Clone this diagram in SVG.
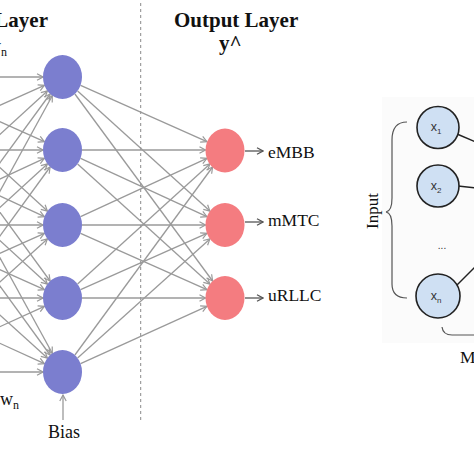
<svg xmlns="http://www.w3.org/2000/svg" width="474" height="474" viewBox="0 0 474 474">
<defs>
<marker id="ah" viewBox="0 0 8 8" refX="7" refY="4" markerWidth="8" markerHeight="8" markerUnits="userSpaceOnUse" orient="auto">
<path d="M1,0.8 L7,4 L1,7.2" fill="none" stroke="#9a9a9a" stroke-width="1.2"/>
</marker>
<marker id="ahd" viewBox="0 0 8 8" refX="7" refY="4" markerWidth="8" markerHeight="8" markerUnits="userSpaceOnUse" orient="auto">
<path d="M1,0.8 L7,4 L1,7.2" fill="none" stroke="#555" stroke-width="1.3"/>
</marker>
</defs>
<style>
.t{font-family:"Liberation Serif","Times New Roman",serif;fill:#111}
.b{font-weight:bold}
.c line{stroke:#9a9a9a;stroke-width:1.3;marker-end:url(#ah)}
.hid{fill:#7b7ecf}
.out{fill:#f47c80}
.xc{fill:#cfe0f3;stroke:#222;stroke-width:1.6}
.s{font-family:"Liberation Sans",Arial,sans-serif;fill:#333}
</style>
<rect x="0" y="0" width="474" height="474" fill="#fff"/>

<!-- titles -->
<text class="t b" x="48" y="27" font-size="21" text-anchor="end">Layer</text>
<text class="t b" x="174" y="27" font-size="21">Output Layer</text>
<text class="t b" x="219" y="50" font-size="21">y^</text>
<text class="t" x="-12" y="52" font-size="18">w<tspan font-size="12" dy="4">n</tspan></text>
<text class="t" x="0" y="405" font-size="18">w<tspan font-size="12" dy="4">n</tspan></text>

<!-- dashed separator -->
<line x1="140.7" y1="3" x2="140.7" y2="420" stroke="#8a8a8a" stroke-width="1" stroke-dasharray="3,3"/>

<!-- connectors -->
<g id="connectors" class="c">
<line x1="-99" y1="77" x2="43" y2="77"/>
<line x1="-99" y1="150" x2="44.4" y2="85.3"/>
<line x1="-99" y1="225" x2="47.4" y2="90.9"/>
<line x1="-99" y1="298" x2="50.1" y2="94"/>
<line x1="-99" y1="372" x2="52.3" y2="95.7"/>

<line x1="-99" y1="77" x2="44.4" y2="141.7"/>
<line x1="-99" y1="150" x2="43" y2="150"/>
<line x1="-99" y1="225" x2="44.4" y2="158.3"/>
<line x1="-99" y1="298" x2="47.4" y2="163.9"/>
<line x1="-99" y1="372" x2="50.1" y2="167"/>

<line x1="-99" y1="77" x2="47.4" y2="211.1"/>
<line x1="-99" y1="150" x2="44.4" y2="216.7"/>
<line x1="-99" y1="225" x2="43" y2="225"/>
<line x1="-99" y1="298" x2="44.4" y2="233.3"/>
<line x1="-99" y1="372" x2="47.4" y2="238.9"/>

<line x1="-99" y1="77" x2="50.1" y2="281"/>
<line x1="-99" y1="150" x2="47.4" y2="284.1"/>
<line x1="-99" y1="225" x2="44.4" y2="289.7"/>
<line x1="-99" y1="298" x2="43" y2="298"/>
<line x1="-99" y1="372" x2="44.4" y2="306.3"/>

<line x1="-99" y1="77" x2="52.3" y2="353.3"/>
<line x1="-99" y1="150" x2="50.1" y2="355"/>
<line x1="-99" y1="225" x2="47.4" y2="358.1"/>
<line x1="-99" y1="298" x2="44.4" y2="363.7"/>
<line x1="-99" y1="372" x2="43" y2="372"/>

<line x1="80.6" y1="85.3" x2="206.9" y2="141.7"/>
<line x1="77.6" y1="90.9" x2="209.9" y2="211.1"/>
<line x1="74.9" y1="94" x2="212.6" y2="281"/>
<line x1="82" y1="150" x2="205.5" y2="150"/>
<line x1="80.6" y1="158.3" x2="206.9" y2="216.7"/>
<line x1="77.6" y1="163.9" x2="209.9" y2="284.1"/>
<line x1="80.6" y1="216.7" x2="206.9" y2="158.3"/>
<line x1="82" y1="225" x2="205.5" y2="225"/>
<line x1="80.6" y1="233.3" x2="206.9" y2="289.7"/>
<line x1="77.6" y1="284.1" x2="209.9" y2="163.9"/>
<line x1="80.6" y1="289.7" x2="206.9" y2="233.3"/>
<line x1="82" y1="298" x2="205.5" y2="298"/>
<line x1="74.9" y1="355" x2="212.6" y2="167"/>
<line x1="77.6" y1="358.1" x2="209.9" y2="238.9"/>
<line x1="80.6" y1="363.7" x2="206.9" y2="306.3"/>

<line x1="63" y1="420" x2="63" y2="395"/>
<line x1="245" y1="151" x2="263" y2="151" style="stroke:#555;marker-end:url(#ahd)"/>
<line x1="245" y1="222" x2="263" y2="222" style="stroke:#555;marker-end:url(#ahd)"/>
<line x1="245" y1="298" x2="263" y2="298" style="stroke:#555;marker-end:url(#ahd)"/>
</g>

<!-- hidden nodes -->
<g id="h1"><ellipse class="hid" cx="62.5" cy="77" rx="19.5" ry="22"/></g>
<g id="h2"><ellipse class="hid" cx="62.5" cy="150" rx="19.5" ry="22"/></g>
<g id="h3"><ellipse class="hid" cx="62.5" cy="225" rx="19.5" ry="22"/></g>
<g id="h4"><ellipse class="hid" cx="62.5" cy="298" rx="19.5" ry="22"/></g>
<g id="h5"><ellipse class="hid" cx="62.5" cy="372" rx="19.5" ry="22"/></g>
<g id="bias"><text class="t" x="48" y="438" font-size="18">Bias</text></g>

<!-- output nodes -->
<g id="o1"><ellipse class="out" cx="225" cy="150.5" rx="19.5" ry="22"/><text class="t" x="268" y="157.5" font-size="17.5">eMBB</text></g>
<g id="o2"><ellipse class="out" cx="225" cy="225" rx="19.5" ry="22"/><text class="t" x="268" y="226" font-size="17.5">mMTC</text></g>
<g id="o3"><ellipse class="out" cx="225" cy="298" rx="19.5" ry="22"/><text class="t" x="268" y="300.5" font-size="17.5">uRLLC</text></g>

<!-- right panel -->
<g id="panel">
<rect x="382" y="97" width="100" height="246" fill="#fbfbfb"/>
<path d="M407,122 Q392,122 392,140 L392,198 Q392,211 386,212 Q392,213 392,226 L392,284 Q392,298 407,298" fill="none" stroke="#555" stroke-width="1.2"/>
<text class="t" font-size="17" text-anchor="middle" transform="translate(378,211) rotate(-90)">Input</text>
<line x1="457" y1="134" x2="476" y2="142" stroke="#222" stroke-width="1.4"/>
<line x1="458" y1="186" x2="476" y2="188" stroke="#222" stroke-width="1.4"/>
<line x1="455" y1="287" x2="476" y2="266" stroke="#222" stroke-width="1.4"/>
<path d="M442,327 Q443,335 452,335 L476,335" fill="none" stroke="#555" stroke-width="1.2"/>
<text class="t" x="460" y="363" font-size="17.5">M</text>
<text class="s" x="442" y="249" font-size="10" text-anchor="middle">...</text>
</g>
<g id="x1"><circle class="xc" cx="438" cy="127.5" r="21"/><text class="s" x="436" y="131" font-size="12.5" text-anchor="middle">x<tspan font-size="8" dy="3">1</tspan></text></g>
<g id="x2"><circle class="xc" cx="438" cy="186" r="21"/><text class="s" x="436" y="189.5" font-size="12.5" text-anchor="middle">x<tspan font-size="8" dy="3">2</tspan></text></g>
<g id="xn"><circle class="xc" cx="438" cy="296" r="22"/><text class="s" x="436" y="299.5" font-size="12.5" text-anchor="middle">x<tspan font-size="8" dy="3">n</tspan></text></g>
</svg>
